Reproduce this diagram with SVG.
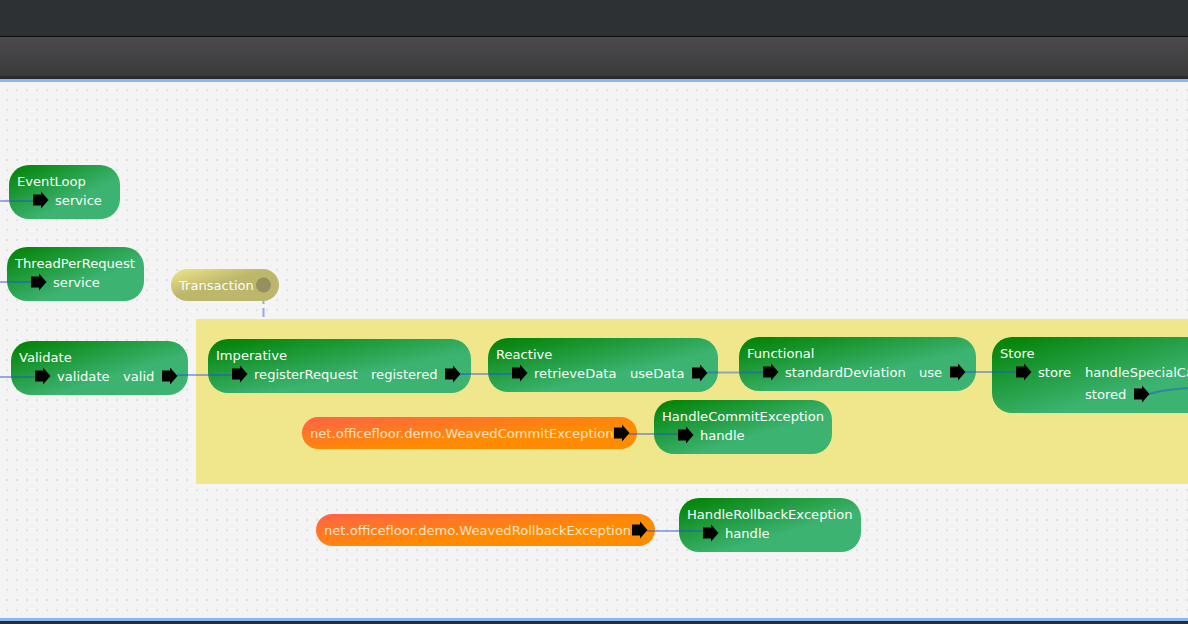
<svg xmlns="http://www.w3.org/2000/svg" width="1188" height="624" viewBox="0 0 1188 624">
<style>
text{font-family:"DejaVu Sans",sans-serif;font-size:13.1px;fill:#f8fff8}
.g{fill:url(#green)}
.o{fill:url(#orange)}
.o2{fill:#ffe4c4}
.c{fill:none;stroke:#2050d8;stroke-opacity:.45;stroke-width:2}
</style>
<defs>
<linearGradient id="green" x1="0" y1="0" x2="1" y2="1"><stop offset="0" stop-color="#008000"/><stop offset=".62" stop-color="#3cb371"/></linearGradient>
<linearGradient id="orange" x1="0" y1="0" x2="1" y2="1"><stop offset="0" stop-color="#ff6347"/><stop offset=".62" stop-color="#ff8c00"/></linearGradient>
<linearGradient id="khaki" x1="0" y1="0" x2="1" y2="1"><stop offset="0" stop-color="#f0e68c"/><stop offset=".45" stop-color="#bdb76b"/></linearGradient>
<linearGradient id="bar" x1="0" y1="0" x2="0" y2="1"><stop offset="0" stop-color="#4b4b4e"/><stop offset="1" stop-color="#3a3a3a"/></linearGradient>
<pattern id="dots" width="10" height="10" patternUnits="userSpaceOnUse" x="6" y="9"><rect width="2" height="2" fill="#e2e2e2"/></pattern>
<path id="a" d="M0-5.500H8V-8.500L15.500 0 8 8.500V5.500H0Z" fill="#000"/>
</defs>
<g id="chrome">
<rect width="1188" height="624" fill="#f4f4f4"/>
<rect y="81" width="1188" height="537" fill="url(#dots)"/>
<rect width="1188" height="36" fill="#2d3133"/>
<rect y="36" width="1188" height="1" fill="#111"/>
<rect y="37" width="1188" height="39" fill="url(#bar)"/>
<rect y="76" width="1188" height="3" fill="#2b2b2b"/>
<rect y="79" width="1188" height="3" fill="#8ab6f2"/>
<rect y="618" width="1188" height="3" fill="#8ab6f2"/>
<rect y="621" width="1188" height="3" fill="#2b2b2b"/>
</g>
<rect id="region" x="196" y="319" width="992" height="165" fill="#f0e68c"/>
<g id="EventLoop"><rect class="g" x="9" y="165" width="111" height="54" rx="20"/><text x="17" y="186">EventLoop</text><use href="#a" x="33" y="200"/><text x="55" y="205">service</text></g>
<g id="ThreadPerRequest"><rect class="g" x="7" y="247" width="137" height="54" rx="20"/><text x="15" y="268">ThreadPerRequest</text><use href="#a" x="31" y="282"/><text x="53" y="287">service</text></g>
<g id="Transaction"><rect x="171" y="269" width="108" height="32" rx="16" fill="url(#khaki)"/><text x="179" y="290">Transaction</text><circle cx="263.500" cy="285" r="7.500" fill="#968f5e"/></g>
<g id="Validate"><rect class="g" x="11" y="341" width="177" height="54" rx="20"/><text x="19" y="362">Validate</text><use href="#a" x="35" y="376"/><text x="57" y="381">validate</text><text x="123" y="381">valid</text><use href="#a" x="162" y="376"/></g>
<g id="Imperative"><rect class="g" x="208" y="339" width="263" height="54" rx="20"/><text x="216" y="360">Imperative</text><use href="#a" x="232" y="374"/><text x="254" y="379">registerRequest</text><text x="371" y="379">registered</text><use href="#a" x="445" y="374"/></g>
<g id="Reactive"><rect class="g" x="488" y="338" width="230" height="54" rx="20"/><text x="496" y="359">Reactive</text><use href="#a" x="512" y="373"/><text x="534" y="378">retrieveData</text><text x="630" y="378">useData</text><use href="#a" x="692" y="373"/></g>
<g id="Functional"><rect class="g" x="739" y="337" width="237" height="54" rx="20"/><text x="747" y="358">Functional</text><use href="#a" x="763" y="372"/><text x="785" y="377">standardDeviation</text><text x="919" y="377">use</text><use href="#a" x="950" y="372"/></g>
<g id="Store"><rect class="g" x="992" y="337" width="260" height="76" rx="20"/><text x="1000" y="358">Store</text><use href="#a" x="1016" y="372"/><text x="1038" y="377">store</text><text x="1085" y="377">handleSpecialCa</text><text x="1085" y="399">stored</text><use href="#a" x="1134" y="394"/></g>
<g id="WeavedCommitException"><rect class="o" x="302" y="417" width="335" height="32" rx="16"/><text class="o2" x="310" y="438">net.officefloor.demo.WeavedCommitException</text><use href="#a" x="614" y="433"/></g>
<g id="HandleCommitException"><rect class="g" x="654" y="400" width="178" height="54" rx="20"/><text x="662" y="421">HandleCommitException</text><use href="#a" x="678" y="435"/><text x="700" y="440">handle</text></g>
<g id="WeavedRollbackException"><rect class="o" x="316" y="514" width="339" height="32" rx="16"/><text class="o2" x="324" y="535">net.officefloor.demo.WeavedRollbackException</text><use href="#a" x="632" y="530"/></g>
<g id="HandleRollbackException"><rect class="g" x="679" y="498" width="182" height="54" rx="20"/><text x="687" y="519">HandleRollbackException</text><use href="#a" x="703" y="533"/><text x="725" y="538">handle</text></g>
<g id="connectors">
<path class="c" d="M0 201H33"/>
<path class="c" d="M0 282H31"/>
<path class="c" d="M0 377H35"/>
<path class="c" d="M263.500 301V304M263.500 308V317"/>
<path class="c" d="M177 375H232"/>
<path class="c" d="M460 374H512"/>
<path class="c" d="M707 372.500H763"/>
<path class="c" d="M965 372H1016"/>
<path class="c" d="M629 434H678"/>
<path class="c" d="M647 531H703"/>
<path class="c" d="M1149 394C1160 390 1175 389 1188 388"/>
</g>
</svg>
